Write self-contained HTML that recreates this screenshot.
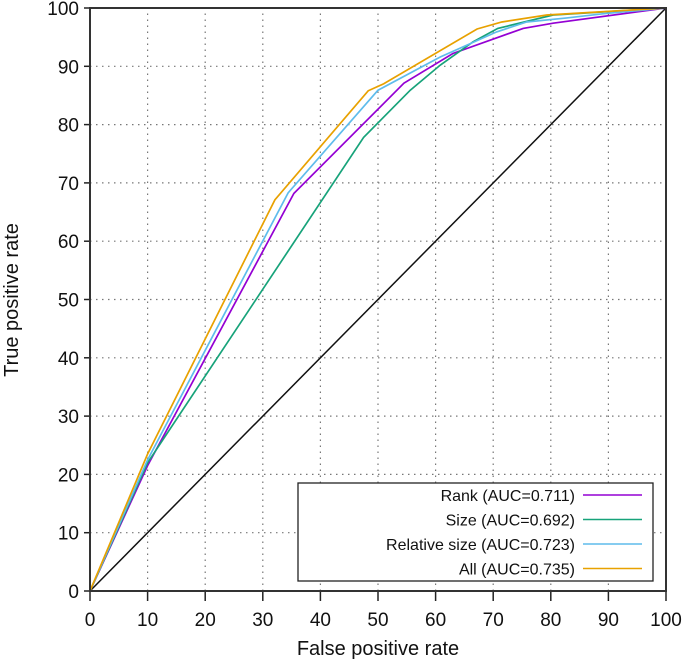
<!DOCTYPE html>
<html><head><meta charset="utf-8"><style>
body{margin:0;background:#fff;font-family:"Liberation Sans",sans-serif}
svg text{font-family:"Liberation Sans",sans-serif;fill:#111}
</style></head><body>
<svg width="685" height="662" viewBox="0 0 685 662">
<g id="grid"></g>
<g id="series"></g>
<g id="axes"></g>
<text x="378" y="655" text-anchor="middle" font-size="20">False positive rate</text>
<text transform="translate(18,300) rotate(-90)" text-anchor="middle" font-size="20">True positive rate</text>
<g id="legend"></g>
</svg>
<script>
const ticks=[0,10,20,30,40,50,60,70,80,90,100];
const seriesNames=["Rank (AUC=0.711)","Size (AUC=0.692)","Relative size (AUC=0.723)","All (AUC=0.735)"];
const seriesColors=["#9400d3","#17a37a","#5ebcec","#e8a100"];
const rankX=[0,10,35.4,54.5,63,75.2,80.4,100];
const rankY=[0,21.5,68.2,87.1,92.2,96.5,97.4,100];
const sizeX=[0,10,47.5,55.6,60.8,66.5,70.8,80.4,100];
const sizeY=[0,22,77.8,85.9,90.2,94.2,96.5,98.8,100];
const relX=[0,10,34.4,50,60.8,70.6,75.8,82.8,89,100];
const relY=[0,22.5,68.3,85.9,91.6,95.9,97.6,98.3,99,100];
const allX=[0,10,32.1,48.3,51,67.2,71.5,79.3,100];
const allY=[0,23.5,67.1,85.8,87,96.4,97.6,98.8,100];
const X0=90,X1=666,Y0=591,Y1=8;
const sx=v=>X0+(X1-X0)*v/100, sy=v=>Y0-(Y0-Y1)*v/100;
const NS="http://www.w3.org/2000/svg";
function mk(t,a,p){const e=document.createElementNS(NS,t);for(const k in a)e.setAttribute(k,a[k]);p.appendChild(e);return e;}
const grid=document.getElementById('grid'),axes=document.getElementById('axes'),ser=document.getElementById('series'),leg=document.getElementById('legend');
ticks.forEach(t=>{
 if(t>0&&t<100){
  const g1=mk('line',{x1:sx(t),x2:sx(t),y1:Y0,y2:Y1,stroke:'#777','stroke-width':1.2,'stroke-dasharray':'1.5,4.5'},grid);
  
  
  const g2=mk('line',{x1:X0,x2:X1,y1:sy(t),y2:sy(t),stroke:'#777','stroke-width':1.2,'stroke-dasharray':'1.5,4.5'},grid);
  
  
 }
 const tx=mk('line',{x1:sx(t),x2:sx(t),y1:Y0,y2:Y0+10,stroke:'#222','stroke-width':1.5},axes);
 
 
 const ty=mk('line',{x1:X0-6,x2:X0,y1:sy(t),y2:sy(t),stroke:'#222','stroke-width':1.5},axes);
 
 
 const lx=mk('text',{x:sx(t),y:Y0+35,'text-anchor':'middle','font-size':19},axes);lx.textContent=t;
 
 
 const ly=mk('text',{x:X0-11,y:sy(t)+7,'text-anchor':'end','font-size':19},axes);ly.textContent=t;
 
 
});
const diag=mk('line',{x1:sx(0),y1:sy(0),x2:sx(100),y2:sy(100),stroke:'#111','stroke-width':1.5},ser);


const all=[[rankX,rankY],[sizeX,sizeY],[relX,relY],[allX,allY]];
const snames=['rank-curve','size-curve','relative-size-curve','all-curve'];
all.forEach((s,i)=>{
 const pts=s[0].map((x,j)=>sx(x)+','+sy(s[1][j])).join(' ');
 const pl=mk('polyline',{points:pts,fill:'none',stroke:seriesColors[i],'stroke-width':1.7},ser);
 
 
});
const fr=mk('rect',{x:X0,y:Y1,width:X1-X0,height:Y0-Y1,fill:'none',stroke:'#333','stroke-width':2},axes);


const lb=mk('rect',{x:298,y:483,width:355,height:98,fill:'#fff',stroke:'#222','stroke-width':1.3},leg);


seriesNames.forEach((n,i)=>{
 const y=495+i*24.5;
 const t=mk('text',{x:575,y:y+6,'text-anchor':'end','font-size':16},leg);t.textContent=n;
 
 
 const l=mk('line',{x1:583,x2:642,y1:y,y2:y,stroke:seriesColors[i],'stroke-width':1.6},leg);
 
 
});
</script>
</body></html>
